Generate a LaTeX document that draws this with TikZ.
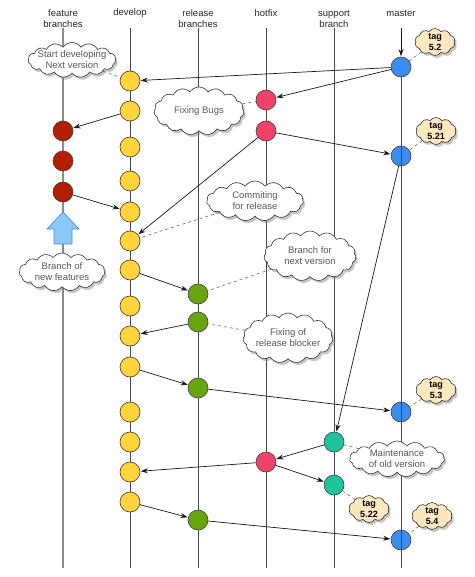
\documentclass[tikz,border=0pt]{standalone}
\usepackage{fontspec}
\setmainfont{Liberation Sans}
\usetikzlibrary{shapes.symbols,shadows,arrows.meta}
\definecolor{devc}{RGB}{255,212,60}
\definecolor{featc}{RGB}{180,30,0}
\definecolor{hotc}{RGB}{240,65,105}
\definecolor{relc}{RGB}{105,165,15}
\definecolor{supc}{RGB}{30,195,155}
\definecolor{masc}{RGB}{60,140,240}
\definecolor{tagc}{RGB}{252,232,192}
\definecolor{linec}{RGB}{70,70,70}
\definecolor{bluearrow}{RGB}{140,200,245}
\definecolor{bluearrowb}{RGB}{70,140,220}
\begin{document}
\begin{tikzpicture}[x=1pt,y=-1pt,
  every node/.style={font=\fontsize{9.5}{11}\selectfont},
  head/.style={align=center, text=black!85, inner sep=0pt},
  col/.style={draw=linec, line width=0.7pt},
  commit/.style={circle, draw=black!75, line width=0.6pt, minimum size=20pt, inner sep=0pt},
  dev/.style={commit, fill=devc, draw=black!60!brown},
  feat/.style={commit, fill=featc},
  hot/.style={commit, fill=hotc},
  rel/.style={commit, fill=relc},
  sup/.style={commit, fill=supc},
  mas/.style={commit, fill=masc},
  flow/.style={draw=black!90, line width=0.7pt, -{Stealth[length=7pt,width=5pt]}, shorten >=0.5pt},
  note/.style={draw=black!60, dashed, line width=0.6pt},
  cloudbox/.style={cloud, cloud puffs=15, cloud puff arc=110, cloud ignores aspect, draw=black!80, fill=white, line width=0.6pt, text=black!65, align=center, inner sep=-10pt, drop shadow={shadow xshift=2pt, shadow yshift=-2.5pt, opacity=0.45}},
  tagbox/.style={cloud, cloud puffs=10, cloud puff arc=110, cloud ignores aspect, draw=black!80, fill=tagc, line width=0.6pt, text=black, align=center, inner sep=-10pt, minimum width=40pt, minimum height=27pt, font=\fontsize{9}{10.5}\selectfont\bfseries, drop shadow={shadow xshift=2pt, shadow yshift=-2.5pt, opacity=0.45}}
]
\useasboundingbox (0,0) rectangle (474,577);

% headers
\node[head] (hf) at (63,18.5) {feature\\branches};
\node[head] (hd) at (130,13) {develop};
\node[head] (hr) at (198,18.5) {release\\branches};
\node[head] (hh) at (266,13) {hotfix};
\node[head] (hs) at (334,18.5) {support\\branch};
\node[head] (hm) at (401,13) {master};

% column lines
\coordinate (ft) at (63,28);  \coordinate (fb) at (63,568);
\coordinate (dt) at (130,28); \coordinate (db) at (130,568);
\coordinate (rt) at (198,28); \coordinate (rb) at (198,568);
\coordinate (ht) at (266,28); \coordinate (hb) at (266,568);
\coordinate (st) at (334,28); \coordinate (sb) at (334,568);
\coordinate (mt) at (401,28); \coordinate (mb) at (401,568);
\draw[draw=black!45, line width=1.4pt] (ft) -- (fb);
\draw[col] (dt) -- (db);
\draw[col] (rt) -- (rb);
\draw[col] (ht) -- (hb);
\draw[col] (st) -- (sb);

% commits
\node[mas] (m1) at (401,67) {};
\node[mas] (m2) at (401,156) {};
\node[mas] (m3) at (401,412) {};
\node[mas] (m4) at (401,540) {};
\draw[col] (m1) -- (mb);
\draw[flow] (mt) -- (m1);
\foreach \i/\y in {1/81,2/111,3/147,4/181,5/212,6/241,7/270,8/306,9/336,10/367,11/412,12/442,13/472,14/502}
  \node[dev] (d\i) at (130,\y) {};
\node[feat] (f1) at (63,131) {};
\node[feat] (f2) at (63,161) {};
\node[feat] (f3) at (63,192) {};
\node[hot] (h1) at (266,100) {};
\node[hot] (h2) at (266,131) {};
\node[hot] (h3) at (266,462) {};
\node[rel] (r1) at (198,294) {};
\node[rel] (r2) at (198,322) {};
\node[rel] (r3) at (198,388) {};
\node[rel] (r4) at (198,520) {};
\node[sup] (s1) at (334,442) {};
\node[sup] (s2) at (334,485) {};

% flows
\draw[flow] (m1) -- (d1);
\draw[flow] (m1) -- (h1);
\draw[flow] (d2) -- (f1);
\draw[flow] (h2) -- (m2);
\draw[flow] (h2) -- (d6);
\draw[flow] (f3) -- (d5);
\draw[flow] (d7) -- (r1);
\draw[flow] (r2) -- (d9);
\draw[flow] (d10) -- (r3);
\draw[flow] (r3) -- (m3);
\draw[flow] (m2) -- (s1);
\draw[flow] (s1) -- (h3);
\draw[flow] (h3) -- (s2);
\draw[flow] (h3) -- (d13);
\draw[flow] (d14) -- (r4);
\draw[flow] (r4) -- (m4);

% blue arrow
\draw[fill=bluearrow, draw=bluearrowb, line width=0.7pt]
  (54,244) -- (72,244) -- (72,229) -- (79,229) -- (63,212) -- (47,229) -- (54,229) -- cycle;

% notes
\node[cloudbox, minimum width=88pt, minimum height=35pt] (c1) at (72,60) {Start developing\\Next version};
\node[cloudbox, minimum width=90pt, minimum height=48pt] (c2) at (199,111) {Fixing Bugs};
\node[cloudbox, minimum width=97pt, minimum height=40pt] (c3) at (255,201) {Commiting\\for release};
\node[cloudbox, minimum width=92pt, minimum height=50pt] (c4) at (310,256) {Branch for\\next version};
\node[cloudbox, minimum width=90pt, minimum height=50pt] (c5) at (288,338) {Fixing of\\release blocker};
\node[cloudbox, minimum width=86pt, minimum height=38pt] (c6) at (62,272) {Branch of\\new features};
\node[cloudbox, minimum width=95pt, minimum height=36pt] (c7) at (397,459) {Maintenance\\of old version};
\node[tagbox] (t1) at (435,42) {tag\\5.2};
\node[tagbox] (t2) at (436,131) {tag\\5.21};
\node[tagbox] (t3) at (436,390) {tag\\5.3};
\node[tagbox] (t4) at (369,509) {tag\\5.22};
\node[tagbox] (t5) at (432,516) {tag\\5.4};

\draw[note] (c1) -- (d1);
\draw[note] (c2) -- (h1);
\draw[note] (c3) -- (d6);
\draw[note] (c4) -- (r1);
\draw[note] (c5) -- (r2);
\draw[note] (c7) -- (s1);
\draw[note] (t1) -- (m1);
\draw[note] (t2) -- (m2);
\draw[note] (t3) -- (m3);
\draw[note] (t4) -- (s2);
\draw[note] (t5) -- (m4);
\end{tikzpicture}
\end{document}
